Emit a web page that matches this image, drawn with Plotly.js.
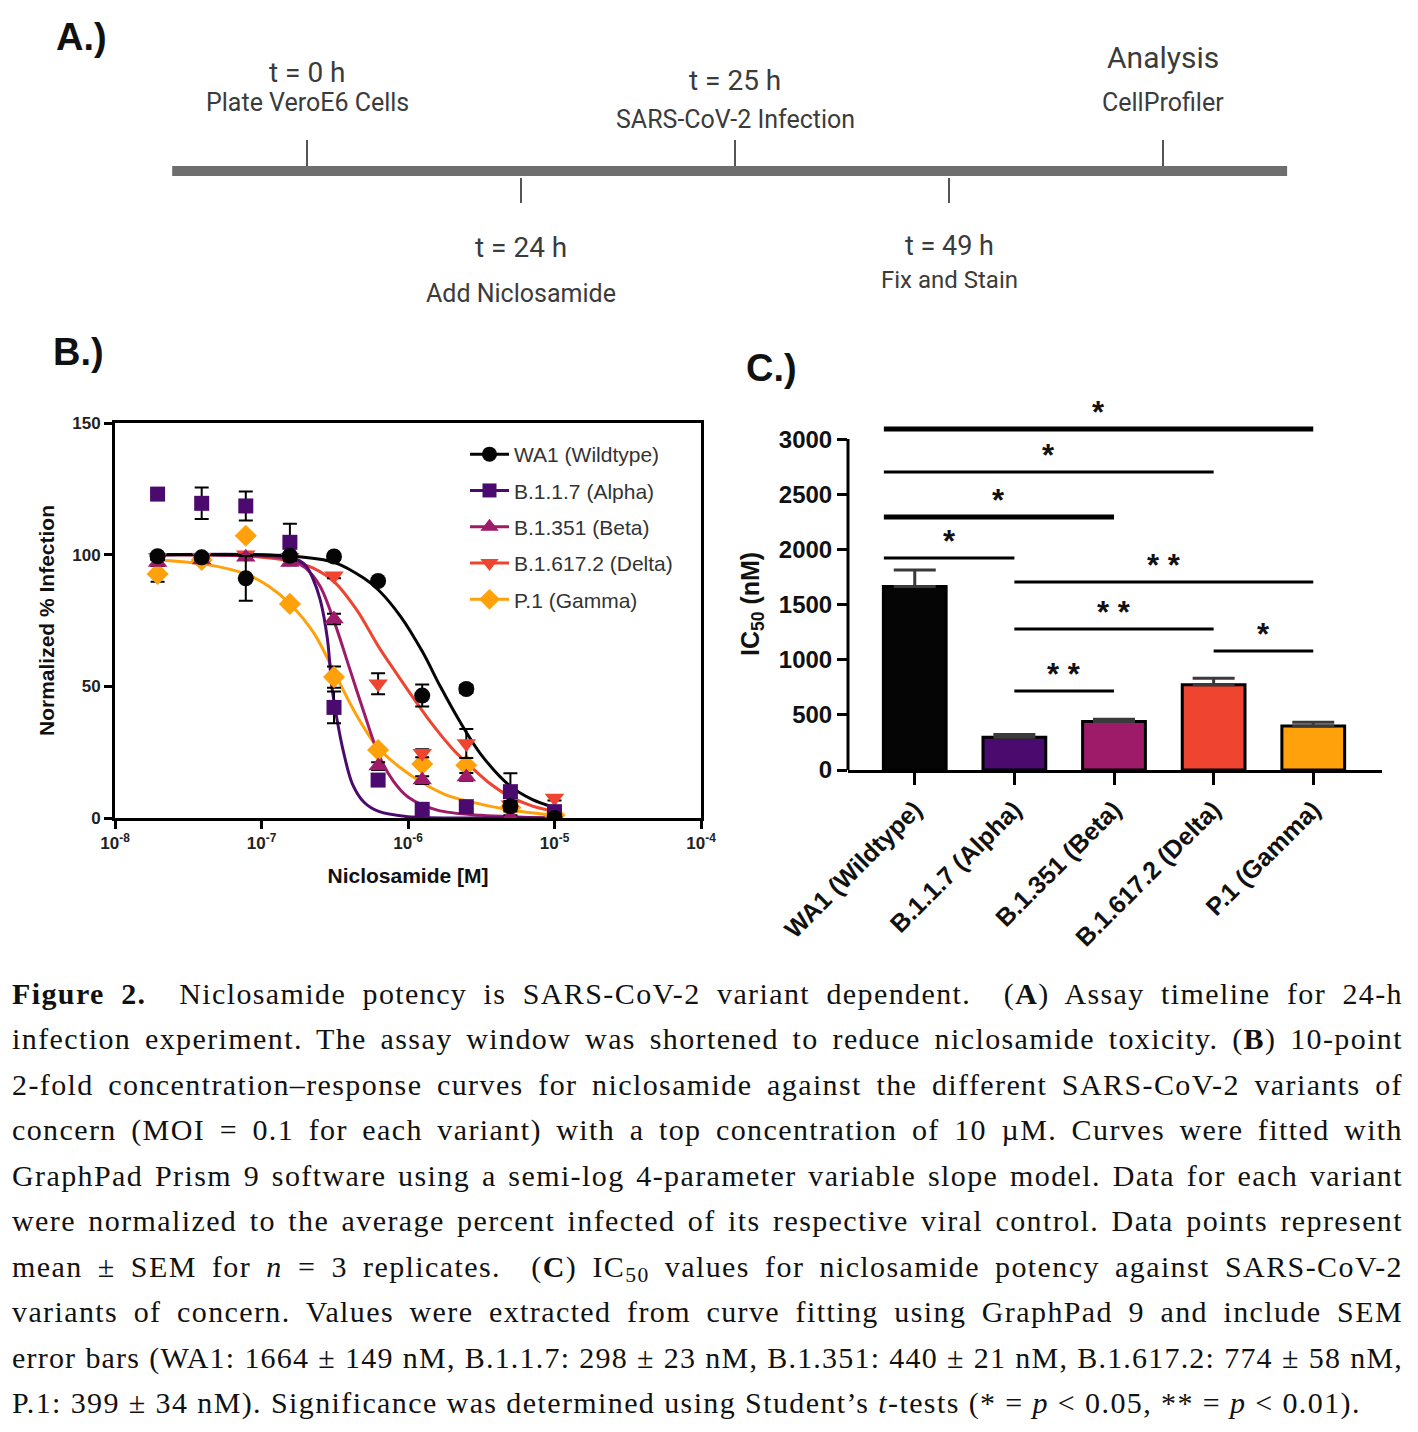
<!DOCTYPE html>
<html>
<head>
<meta charset="utf-8">
<script src="https://cdn.plot.ly/plotly-3.0.1.min.js"></script>
<style>
  html, body { margin: 0; padding: 0; background: #ffffff; }
  #wrap { position: relative; width: 1418px; height: 1432px; }
  #chart { position: absolute; left: 0; top: 0; width: 1418px; height: 1432px; }
  #caption { position: absolute; left: 12px; top: 971px; width: 1391px;
    font-family: "Liberation Serif", "Times New Roman", serif; font-size: 30px; letter-spacing: 1.4px; color: #111; }
  #caption .ln { height: 45.45px; line-height: 45.45px; overflow: hidden;
    text-align: justify; text-align-last: justify; }
  #caption .ln.last { text-align: left; text-align-last: left; }
  #caption sub { font-size: 0.72em; line-height: 0; vertical-align: -0.25em; }
</style>
</head>
<body>
<div id="wrap">
  <div id="chart"></div>
  <div id="caption">
    <div class="ln"><b>Figure 2.</b>&nbsp; Niclosamide potency is SARS-CoV-2 variant dependent.&nbsp; (<b>A</b>) Assay timeline for 24-h</div>
    <div class="ln">infection experiment. The assay window was shortened to reduce niclosamide toxicity. (<b>B</b>) 10-point</div>
    <div class="ln">2-fold concentration–response curves for niclosamide against the different SARS-CoV-2 variants of</div>
    <div class="ln">concern (MOI = 0.1 for each variant) with a top concentration of 10 µM. Curves were fitted with</div>
    <div class="ln">GraphPad Prism 9 software using a semi-log 4-parameter variable slope model. Data for each variant</div>
    <div class="ln">were normalized to the average percent infected of its respective viral control. Data points represent</div>
    <div class="ln">mean ± SEM for <i>n</i> = 3 replicates.&nbsp; (<b>C</b>) IC<sub>50</sub> values for niclosamide potency against SARS-CoV-2</div>
    <div class="ln">variants of concern. Values were extracted from curve fitting using GraphPad 9 and include SEM</div>
    <div class="ln">error bars (WA1: 1664 ± 149 nM, B.1.1.7: 298 ± 23 nM, B.1.351: 440 ± 21 nM, B.1.617.2: 774 ± 58 nM,</div>
    <div class="ln last">P.1: 399 ± 34 nM). Significance was determined using Student’s <i>t</i>-tests (* = <i>p</i> &lt; 0.05, ** = <i>p</i> &lt; 0.01).</div>
  </div>
</div>
<script>
// ---------------- DATA ----------------
// Panel A: timeline events
const eventHeads = ['t = 0 h', 't = 24 h', 't = 25 h', 't = 49 h', 'Analysis'];
const eventNotes = ['Plate VeroE6 Cells', 'Add Niclosamide', 'SARS-CoV-2 Infection', 'Fix and Stain', 'CellProfiler'];
const eventSide = ['above', 'below', 'above', 'below', 'above'];

// Panel B: concentration-response (molar concentrations, 2-fold from 10 uM)
const variants = ['WA1 (Wildtype)', 'B.1.1.7 (Alpha)', 'B.1.351 (Beta)', 'B.1.617.2 (Delta)', 'P.1 (Gamma)'];
const conc = [1.953125e-8, 3.90625e-8, 7.8125e-8, 1.5625e-7, 3.125e-7, 6.25e-7, 1.25e-6, 2.5e-6, 5e-6, 1e-5];

const wa1Mean   = [99.4, 99.0, 91.0, 99.6, 99.3, 90.0, 46.5, 49.0, 4.5, 0.0];
const wa1Sem    = [1.0, 1.0, 8.5, 1.0, 1.0, 1.0, 4.2, 1.5, 2.0, 1.0];
const alphaMean = [123.0, 119.5, 118.5, 104.7, 42.0, 14.4, 3.3, 4.3, 10.0, 2.4];
const alphaSem  = [1.0, 6.0, 5.5, 7.0, 6.0, 2.0, 1.0, 1.0, 7.0, 1.0];
const betaMean  = [97.0, 98.0, 99.0, 97.0, 75.6, 19.7, 14.4, 15.6, 0.5, 0.0];
const betaSem   = [1.0, 1.0, 1.0, 1.0, 2.0, 1.5, 1.5, 1.5, 0.5, 0.5];
const deltaMean = [99.0, 99.0, 100.0, 99.0, 92.0, 51.0, 24.6, 28.3, 5.0, 7.6];
const deltaSem  = [1.0, 1.0, 1.0, 1.0, 1.0, 4.0, 1.5, 5.5, 1.0, 1.0];
const gammaMean = [92.7, 98.0, 107.2, 81.3, 53.5, 25.8, 20.5, 20.0, 4.0, 1.0];
const gammaSem  = [3.0, 1.0, 1.0, 1.0, 4.0, 1.0, 1.0, 1.0, 1.0, 1.0];

// Fitted curves (log10 concentration, % infection)
const wa1CurveLog   = [-7.7, -7.2, -6.8, -6.5, -6.3, -6.2, -6.05, -5.9, -5.78, -5.65, -5.5, -5.3, -5.15, -5.0];
const wa1CurveY     = [100, 100, 99.5, 97, 91, 86.5, 76.5, 63, 50, 37, 24, 12, 7, 4];
const alphaCurveLog = [-7.7, -7.0, -6.8, -6.7, -6.65, -6.6, -6.55, -6.52, -6.48, -6.44, -6.38, -6.3, -6.2, -6.0, -5.5, -5.0];
const alphaCurveY   = [100, 100, 99, 96, 91, 83, 68, 50, 36, 25, 13, 6, 2.5, 0.5, 0, 0];
const betaCurveLog  = [-7.7, -7.0, -6.8, -6.7, -6.6, -6.5, -6.4, -6.3, -6.2, -6.1, -6.0, -5.8, -5.5, -5.0];
const betaCurveY    = [100, 99.5, 98, 95, 88, 74, 57, 40, 24, 14, 8, 3, 1, 0];
const deltaCurveLog = [-7.7, -7.1, -6.8, -6.65, -6.5, -6.35, -6.2, -6.08, -5.95, -5.84, -5.7, -5.6, -5.45, -5.3, -5.15, -5.0];
const deltaCurveY   = [100, 99.5, 97.5, 95, 89.5, 79, 65, 55, 44.5, 36, 26.5, 21, 13.5, 8, 4.5, 2.5];
const gammaCurveLog = [-7.7, -7.4, -7.1, -6.95, -6.8, -6.64, -6.5, -6.4, -6.33, -6.21, -6.05, -5.89, -5.75, -5.6, -5.3, -5.0];
const gammaCurveY   = [98, 96.5, 92.5, 88, 81, 70, 55, 44, 37, 27, 19, 13, 9, 6.5, 3, 1];

const xTickVals = [1e-8, 1e-7, 1e-6, 1e-5, 1e-4];
const xTickText = ['10<sup>-8</sup>', '10<sup>-7</sup>', '10<sup>-6</sup>', '10<sup>-5</sup>', '10<sup>-4</sup>'];
const yTickValsB = [0, 50, 100, 150];

// Panel C: IC50 (nM) with SEM
const ic50 = [1664, 298, 440, 774, 399];
const ic50Sem = [149, 23, 21, 58, 34];
const yTickValsC = [0, 500, 1000, 1500, 2000, 2500, 3000];

// Significance comparisons
const sigFrom  = [0, 0, 0, 0, 1, 1, 3, 1];
const sigTo    = [4, 3, 2, 1, 4, 3, 4, 2];
const sigLevel = [3091, 2702, 2294, 1922, 1704, 1278, 1079, 716];
const sigLabel = ['*', '*', '*', '*', '**', '**', '*', '**'];

// ---------------- STYLE ----------------
const colors = ['#050505', '#4b0a6e', '#9e1b6a', '#ee4430', '#ffa10a'];
const symbols = ['circle', 'square', 'triangle-up', 'triangle-down', 'diamond'];
const msizes = [16, 15, 17, 17, 17];
const W = 1418, H = 1432;
const px = v => v / W;
const py = v => 1 - v / H;
const sigWidths = [5, 3, 5, 3, 3, 3, 3, 3];
const headY = [72, 248, 80, 246, 57];
const noteY = [103, 293, 120, 280, 103];
const headSize = [28, 28, 28, 27, 30];
const noteSize = [25, 25, 25, 24, 25];
const tlColor = '#3b3b3b';

const means = [wa1Mean, alphaMean, betaMean, deltaMean, gammaMean];
const sems = [wa1Sem, alphaSem, betaSem, deltaSem, gammaSem];
const curveLogs = [wa1CurveLog, alphaCurveLog, betaCurveLog, deltaCurveLog, gammaCurveLog];
const curveYs = [wa1CurveY, alphaCurveY, betaCurveY, deltaCurveY, gammaCurveY];

const traces = [];
// curves (drawn first, carry legend entries)
for (let i = variants.length - 1; i >= 0; i--) {
  traces.push({
    type: 'scatter', mode: 'lines+markers', name: variants[i],
    x: curveLogs[i].map(v => Math.pow(10, v)), y: curveYs[i],
    xaxis: 'x', yaxis: 'y',
    line: { color: colors[i], width: 3, shape: 'spline', smoothing: 0.9 },
    marker: { symbol: symbols[i], size: msizes[i] - 1, color: colors[i], line: { width: 0 } },
    selectedpoints: [], unselected: { marker: { opacity: 0 } },
    legendgroup: 'g' + i, legendrank: i + 1, showlegend: true, hoverinfo: 'skip'
  });
}
// data points
for (let i = variants.length - 1; i >= 0; i--) {
  traces.push({
    type: 'scatter', mode: 'markers', name: variants[i],
    x: conc, y: means[i], xaxis: 'x', yaxis: 'y',
    marker: { symbol: symbols[i], size: msizes[i], color: colors[i], line: { width: 0 } },
    error_y: { type: 'data', array: sems[i], color: '#000', thickness: 2, width: 7 },
    legendgroup: 'g' + i, showlegend: false
  });
}
// bars
traces.push({
  type: 'bar', x: variants, y: ic50, xaxis: 'x2', yaxis: 'y2', width: 0.63,
  marker: { color: colors, line: { color: '#000', width: 3 } },
  error_y: { type: 'data', symmetric: false, array: ic50Sem, arrayminus: ic50Sem.map(() => 0),
             color: '#3a3a3a', thickness: 3, width: 21 },
  showlegend: false
});
// invisible anchor for timeline axis
traces.push({ type: 'scatter', mode: 'markers', x: [0], y: [0], xaxis: 'x3', yaxis: 'y3',
  marker: { opacity: 0 }, showlegend: false, hoverinfo: 'skip' });

const shapes = [];
const annotations = [];

// ---- Panel A timeline ----
shapes.push({ type: 'line', xref: 'x3', yref: 'paper', x0: -0.63, x1: 4.58, y0: py(171), y1: py(171),
  line: { color: '#6e6e6e', width: 10 } });
eventHeads.forEach((h, i) => {
  const up = eventSide[i] === 'above';
  shapes.push({ type: 'line', xref: 'x3', yref: 'paper', x0: i, x1: i,
    y0: up ? py(140) : py(178), y1: up ? py(166) : py(203), line: { color: '#555', width: 2 } });
  annotations.push({ xref: 'x3', yref: 'paper', x: i, y: py(headY[i]), text: h, showarrow: false,
    xanchor: 'center', yanchor: 'middle', font: { family: 'Roboto', size: headSize[i], color: tlColor } });
  annotations.push({ xref: 'x3', yref: 'paper', x: i, y: py(noteY[i]), text: eventNotes[i], showarrow: false,
    xanchor: 'center', yanchor: 'middle', font: { family: 'Roboto', size: noteSize[i], color: tlColor } });
});

// ---- Panel labels ----
[['A.)', 54, 37], ['B.)', 51, 352], ['C.)', 744, 368]].forEach(p => {
  annotations.push({ xref: 'paper', yref: 'paper', x: px(p[1]), y: py(p[2]), text: p[0], showarrow: false,
    xanchor: 'left', yanchor: 'middle', font: { family: 'Liberation Sans', size: 38, color: '#111', weight: 'bold' } });
});

// ---- Panel C axis line & significance ----
shapes.push({ type: 'line', xref: 'x2 domain', yref: 'y2', x0: 0, x1: 0, y0: 0, y1: 3000,
  line: { color: '#000', width: 3 } });
sigFrom.forEach((f, k) => {
  const x0 = f === 0 ? -0.31 : f;
  const x1 = sigTo[k];
  shapes.push({ type: 'line', xref: 'x2', yref: 'y2', x0: x0, x1: x1, y0: sigLevel[k], y1: sigLevel[k],
    line: { color: '#000', width: sigWidths[k] } });
  annotations.push({ xref: 'x2', yref: 'y2', x: (x0 + x1) / 2, y: sigLevel[k],
    text: sigLabel[k].split('').join(' '), showarrow: false, xanchor: 'center', yanchor: 'bottom', yshift: -3,
    font: { family: 'Liberation Sans', size: 31, color: '#111', weight: 'bold' } });
});
annotations.push({ xref: 'paper', yref: 'paper', x: px(752), y: py(604), text: 'IC<sub>50</sub> (nM)',
  textangle: -90, showarrow: false, xanchor: 'center', yanchor: 'middle',
  font: { family: 'Liberation Sans', size: 25, color: '#111', weight: 'bold' } });

const axisFontB = { family: 'Liberation Sans', size: 17, color: '#222', weight: 'bold' };

const layout = {
  width: W, height: H, margin: { l: 0, r: 0, t: 0, b: 0 },
  paper_bgcolor: '#ffffff', plot_bgcolor: 'rgba(0,0,0,0)',
  font: { family: 'Liberation Sans', color: '#111' },
  showlegend: true,
  legend: { x: px(465), y: py(434), xanchor: 'left', yanchor: 'top', bgcolor: 'rgba(0,0,0,0)',
    traceorder: 'grouped', tracegroupgap: 6, itemwidth: 39,
    font: { family: 'Liberation Sans', size: 21, color: '#333' } },
  xaxis: {
    type: 'log', range: [-8, -4], domain: [px(115), px(701)], anchor: 'y',
    showline: true, linewidth: 3, linecolor: '#000', mirror: true,
    ticks: 'outside', ticklen: 8, tickwidth: 3, tickcolor: '#000',
    tickvals: xTickVals, ticktext: xTickText, tickfont: axisFontB,
    showgrid: false, zeroline: false,
    title: { text: 'Niclosamide [M]', standoff: 16, font: { family: 'Liberation Sans', size: 21, color: '#111', weight: 'bold' } }
  },
  yaxis: {
    range: [0, 150], domain: [py(818), py(423)], anchor: 'x',
    showline: true, linewidth: 3, linecolor: '#000', mirror: true,
    ticks: 'outside', ticklen: 8, tickwidth: 3, tickcolor: '#000',
    tickvals: yTickValsB, tickfont: axisFontB, showgrid: false, zeroline: false,
    title: { text: 'Normalized % Infection', standoff: 12, font: { family: 'Liberation Sans', size: 21, color: '#111', weight: 'bold' } }
  },
  xaxis2: {
    domain: [px(848), px(1382)], anchor: 'y2', range: [-0.67, 4.69],
    showline: true, linewidth: 3, linecolor: '#000',
    ticks: 'outside', ticklen: 12, tickwidth: 3, tickcolor: '#000', tickangle: -45,
    tickfont: { family: 'Liberation Sans', size: 25, color: '#111', weight: 'bold' },
    showgrid: false, zeroline: false
  },
  yaxis2: {
    domain: [py(770), py(770 - 3400 * 0.1103)], anchor: 'x2', range: [0, 3400],
    showline: false, ticks: 'outside', ticklen: 10, tickwidth: 3, tickcolor: '#000',
    tickvals: yTickValsC, tickfont: { family: 'Liberation Sans', size: 24, color: '#111', weight: 'bold' },
    showgrid: false, zeroline: false
  },
  xaxis3: { domain: [0, 1], range: [-307 / 214, (W - 307) / 214], anchor: 'y3', visible: false, fixedrange: true },
  yaxis3: { domain: [py(320), 1], range: [-1, 1], anchor: 'x3', visible: false, fixedrange: true },
  shapes: shapes,
  annotations: annotations
};

Plotly.newPlot('chart', traces, layout, { displayModeBar: false, staticPlot: true });

// keep each caption line on one line: tighten letter-spacing if a line would overflow
document.querySelectorAll('#caption .ln').forEach(el => {
  const target = 1391;
  el.style.whiteSpace = 'nowrap';
  el.style.display = 'inline-block';
  el.style.width = 'auto';
  let ls = 1.4;
  while (el.getBoundingClientRect().width > target - 2 && ls > -1) {
    ls -= 0.1;
    el.style.letterSpacing = ls.toFixed(2) + 'px';
  }
  el.style.whiteSpace = '';
  el.style.display = '';
  el.style.width = '';
});
</script>
</body>
</html>
